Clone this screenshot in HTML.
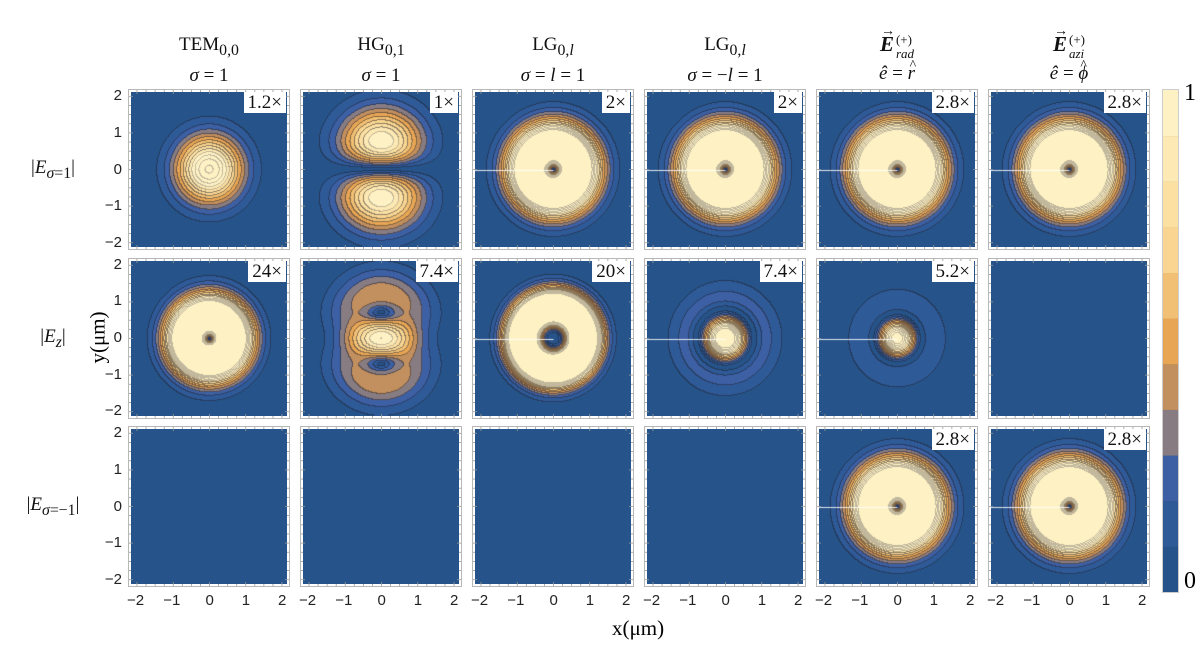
<!DOCTYPE html>
<html><head><meta charset="utf-8"><style>
body{margin:0;background:#fff;width:1200px;height:648px;overflow:hidden;position:relative;font-family:"Liberation Serif",serif}
.abs{position:absolute}
.title{position:absolute;width:170px;text-align:center;font-size:19px;line-height:25px;color:#111}
.rowlab{position:absolute;font-size:19px;color:#111;width:90px;text-align:center}
.tick{position:absolute;font-family:"Liberation Sans",sans-serif;font-size:15px;color:#222}
.mag{position:absolute;background:#fff;font-size:19px;line-height:21px;padding:0 4px;color:#111}
.stk{display:inline-block;vertical-align:middle;line-height:14px;font-size:13px;text-align:left;margin-left:2px}
.vec{position:relative;display:inline-block;font-weight:bold;font-style:italic;font-size:21px}
.vec:before{content:"→";position:absolute;left:1px;top:-13px;font-size:14px;font-style:normal}
.hat{position:relative;display:inline-block;font-style:italic;line-height:19px}
.hat:before{content:"^";position:absolute;left:2px;top:-8px;font-style:normal;font-size:14px}
</style></head><body>
<div id="root"></div>
<script>
// ===== data =====
const columnTitles=[["TEM<sub>0,0</sub>","<i>σ</i> = 1"],["HG<sub>0,1</sub>","<i>σ</i> = 1"],["LG<sub>0,<i>l</i></sub>","<i>σ</i> = <i>l</i> = 1"],["LG<sub>0,<i>l</i></sub>","<i>σ</i> = −<i>l</i> = 1"],["<span class='vec'>E</span><span class='stk'>(+)<br><i>rad</i></span>","<i>ê</i> = <span class='hat'>r</span>"],["<span class='vec'>E</span><span class='stk'>(+)<br><i>azi</i></span>","<i>ê</i> = <span class='hat'>ϕ</span>"]];
const rowLabels=["|<i>E</i><sub><i>σ</i>=1</sub>|","|<i>E<sub>z</sub></i>|","|<i>E</i><sub><i>σ</i>=−1</sub>|"];
const magLabels=[["1.2×","1×","2×","2×","2.8×","2.8×"],["24×","7.4×","20×","7.4×","5.2×",""],["","","","","2.8×","2.8×"]];
const profiles=[["gauss","hg","ring1","ring1","ring1","ring1"],["ring1","hgz","ring3","donut","donut","zero"],["zero","zero","zero","zero","ring1","ring1"]];
const widths=[[0.9,1.1,0.6,0.6,0.6,0.6],[0.55,1.0,0.8,0.8,0.7,1],[1,1,1,1,0.6,0.6]];
const gains=[[1.2,1.0,2.0,2.0,2.0,2.0],[2.2,1.0,2.5,1.5,1.3,0],[0,0,0,0,2.0,2.0]];
const branchCut=[[0,0,1,1,1,1],[0,0,1,1,1,0],[0,0,0,0,1,1]];
const tickValues=[-2,-1,0,1,2];
const bandColors=["#26548a","#2f5a98","#3d60a4","#877c82","#c28f5e","#e8a654","#f1c074","#f9d591","#fce0a2","#fde9b3","#fef2c4"];
// ===== layout =====
const root=document.getElementById('root');
const colX0=128,colStep=172,rowY0=89,rowStep=168.5,FW=162,FH=161,SX=36.25,SY=36.6;
function prof(type,x,y,w){const r2=x*x+y*y;
 switch(type){
 case"gauss":return Math.exp(-r2/(w*w));
 case"hg":return Math.abs(y)/(w/Math.SQRT2)*Math.exp(0.5-r2/(w*w));
 case"ring1":return Math.sqrt(r2)/w*Math.exp(0.5-r2/(2*w*w));
 case"ring3":return Math.pow(Math.sqrt(r2)/w,3)*Math.exp(1.5*(1-r2/(w*w)));
 case"hgz":{const a=4*x*x*y*y/(w**4),b=(1-2*y*y/(w*w));return Math.sqrt(a+b*b)*Math.exp(-r2/(w*w));}
 case"donut":return Math.abs(1-r2/(w*w))*Math.exp(-r2/(w*w));
 default:return 0;}}
function hex(h){return[parseInt(h.substr(1,2),16),parseInt(h.substr(3,2),16),parseInt(h.substr(5,2),16)];}
const bandRGB=bandColors.map(hex);
function add(tag,cls,html,style){const e=document.createElement(tag);if(cls)e.className=cls;if(html!==undefined)e.innerHTML=html;Object.assign(e.style,style||{});root.appendChild(e);return e;}
for(let c=0;c<6;c++){const t=add('div','title',columnTitles[c][0]+"<br>"+columnTitles[c][1],{left:(colX0+c*colStep+81-85)+'px',top:'32px'});

}
for(let r=0;r<3;r++){const l=add('div','rowlab',rowLabels[r],{left:'8px',top:(rowY0+r*rowStep+68)+'px'});

}
for(let r=0;r<3;r++)for(let c=0;c<6;c++){
 const fx=colX0+c*colStep,fy=rowY0+r*rowStep;
 const fr=add('div','',undefined,{position:'absolute',left:fx+'px',top:fy+'px',width:(FW-2)+'px',height:(FH-2)+'px',border:'1px solid #b8b8b8'});
 
 
 const W=156,H=155;const cv=document.createElement('canvas');cv.width=W;cv.height=H;
 Object.assign(cv.style,{position:'absolute',left:(fx+3)+'px',top:(fy+3)+'px'});
 
 
 root.appendChild(cv);
 const ctx=cv.getContext('2d');const img=ctx.createImageData(W,H);
 const cx=fx+81.5-(fx+3),cy=fy+80.5-(fy+3);
 const lev=new Int32Array(W*H);
 for(let j=0;j<H;j++)for(let i=0;i<W;i++){const x=(i+0.5-cx)/SX,y=-(j+0.5-cy)/SY;
  const v=gains[r][c]*prof(profiles[r][c],x,y,widths[r][c]);
  let L=Math.floor(v*11);if(L>13)L=13;lev[j*W+i]=L;}
 for(let j=0;j<H;j++)for(let i=0;i<W;i++){const k=j*W+i,L=lev[k];const ci=Math.max(0,Math.min(10,L));let [R,G,B]=bandRGB[ci];
  const edge=(i<W-1&&lev[k+1]!==L)||(j<H-1&&lev[k+W]!==L);
  if(edge){const a=ci>=9?0.7:0.5;R=R*a+15;G=G*a+15;B=B*a+20;}
  img.data[k*4]=R;img.data[k*4+1]=G;img.data[k*4+2]=B;img.data[k*4+3]=255;}
 ctx.putImageData(img,0,0);
 if(branchCut[r][c]){ctx.strokeStyle='rgba(255,255,255,0.85)';ctx.lineWidth=1;ctx.beginPath();ctx.moveTo(0,Math.round(cy)+0.5);ctx.lineTo(cx,Math.round(cy)+0.5);ctx.stroke();}
 const ts=document.createElementNS('http://www.w3.org/2000/svg','svg');ts.setAttribute('width',FW);ts.setAttribute('height',FH);
 Object.assign(ts.style,{position:'absolute',left:fx+'px',top:fy+'px'});
 
 
 let s='';for(let v=-2;v<=2.001;v+=0.25){const px=81.5+v*SX,py=80.5-v*SY,len=Math.abs(v-Math.round(v))<0.01?4:2;
  s+=`<line x1="${px}" y1="${FH-1}" x2="${px}" y2="${FH-1-len}" stroke="#999" stroke-width="0.8"/><line x1="${px}" y1="1" x2="${px}" y2="${1+len}" stroke="#999" stroke-width="0.8"/><line x1="1" y1="${py}" x2="${1+len}" y2="${py}" stroke="#999" stroke-width="0.8"/><line x1="${FW-1}" y1="${py}" x2="${FW-1-len}" y2="${py}" stroke="#999" stroke-width="0.8"/>`;}
 ts.innerHTML=s;root.appendChild(ts);
 if(magLabels[r][c]){const m=add('div','mag',magLabels[r][c],{right:(1200-(fx+FW-4))+'px',top:(fy+3)+'px'});
  
  }
 if(c===0)tickValues.forEach(v=>{const t=add('div','tick',String(v).replace('-','−'),{right:(1200-(fx-6))+'px',top:(fy+80.5-v*SY-9)+'px'});
  
  });
 if(r===2)tickValues.forEach(v=>{const t=add('div','tick',String(v).replace('-','−'),{left:(fx+81.5+v*SX-(v<0?10:4))+'px',top:'592px'});
  
  });
}
const cb=document.createElementNS('http://www.w3.org/2000/svg','svg');cb.setAttribute('width',20);cb.setAttribute('height',506);
Object.assign(cb.style,{position:'absolute',left:'1161px',top:'88px'});


let cs='';const bh=502/11;
for(let k=0;k<11;k++){const y=2+(10-k)*bh;cs+=`<rect x="2" y="${y}" width="15" height="${bh+0.5}" fill="${bandColors[k]}"/>`;if(k<10)cs+=`<line x1="2" x2="17" y1="${y}" y2="${y}" stroke="rgba(60,50,40,0.45)" stroke-width="1"/>`;}
cs+=`<rect x="1.5" y="1.5" width="16" height="503" fill="none" stroke="#ccc"/>`;cb.innerHTML=cs;root.appendChild(cb);
</script>
<div class="abs" style="left:1184px;top:80px;font-size:24px">1</div>
<div class="abs" style="left:1184px;top:568px;font-size:24px">0</div>
<div class="abs" style="left:72px;top:325px;font-size:21px;transform:rotate(-90deg);transform-origin:center">y(μm)</div>
<div class="abs" style="left:612px;top:616px;font-size:21px">x(μm)</div>
</body></html>
